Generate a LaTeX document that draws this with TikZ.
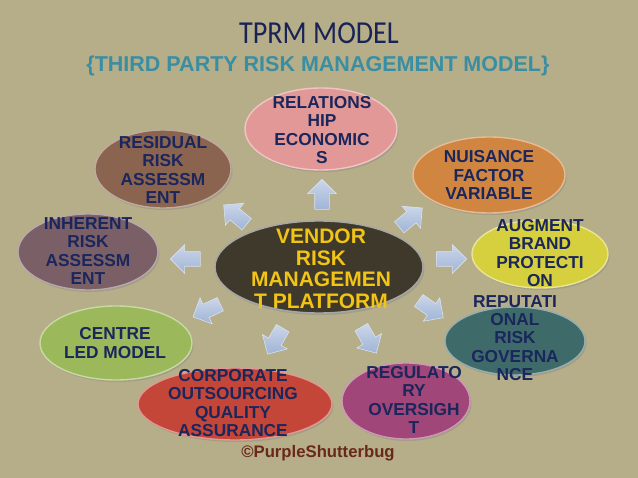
\documentclass[tikz,border=0pt]{standalone}
\usepackage{fontspec}
\setmainfont{Liberation Sans}
\newfontfamily\titlefont{Carlito}
\usetikzlibrary{shapes.geometric,shapes.arrows,shadows}
\definecolor{bgc}{RGB}{182,174,137}
\definecolor{navy}{RGB}{26,38,92}
\definecolor{titlec}{RGB}{25,35,85}
\definecolor{subc}{RGB}{58,142,162}
\definecolor{copyc}{RGB}{105,40,25}
\definecolor{centc}{RGB}{62,57,42}
\definecolor{centt}{RGB}{242,196,22}
\definecolor{relc}{RGB}{226,152,150}
\definecolor{resc}{RGB}{139,100,80}
\definecolor{nuic}{RGB}{208,134,64}
\definecolor{augc}{RGB}{214,208,62}
\definecolor{repc}{RGB}{62,106,106}
\definecolor{regc}{RGB}{160,70,120}
\definecolor{corc}{RGB}{196,70,56}
\definecolor{cenc}{RGB}{155,185,90}
\definecolor{inhc}{RGB}{122,96,102}
\definecolor{arrc}{RGB}{160,180,214}
\tikzset{
  ell/.style={ellipse, inner sep=0pt, fill=#1, draw=#1!55!white, line width=1.4pt,
    drop shadow={shadow xshift=1.5pt, shadow yshift=-2pt, opacity=0.35}},
  txt/.style={text=navy, font=\bfseries\fontsize{17.3}{18.3}\selectfont, align=center, inner sep=0pt},
  blockarrow/.style={single arrow, inner xsep=0pt, inner ysep=0pt, minimum height=30pt,
    single arrow head extend=7pt, single arrow head indent=0pt,
    top color=arrc!55!white, bottom color=arrc, draw=arrc!40!white, line width=0.6pt, rotate=#1}
}
\newcommand{\shaftbox}{\rule{0pt}{14pt}}
\begin{document}
\begin{tikzpicture}[x=1pt,y=-1pt]
\fill[bgc] (0,0) rectangle (638,478);
\useasboundingbox (0,0) rectangle (638,478);

% title
\node[text=titlec, font=\titlefont\fontsize{32}{34}\selectfont, inner sep=0pt] (title) at (319,33) {\scalebox{0.88}[1]{TPRM MODEL}};
\node[text=subc, font=\bfseries\fontsize{21.5}{24}\selectfont, inner sep=0pt] (subtitle) at (318,66) {\{THIRD PARTY RISK MANAGEMENT MODEL\}};

% ellipses
\node[ell=relc, minimum width=152pt, minimum height=82pt] (rel) at (321,129) {};
\node[ell=resc, minimum width=136pt, minimum height=78pt] (res) at (163,169) {};
\node[ell=nuic, minimum width=152pt, minimum height=76pt] (nui) at (489,175) {};
\node[ell=augc, minimum width=136pt, minimum height=68pt] (aug) at (540,254) {};
\node[ell=inhc, minimum width=140pt, minimum height=76pt] (inh) at (88,252) {};
\node[ell=cenc, minimum width=152pt, minimum height=74pt] (cen) at (116,343) {};
\node[ell=repc, minimum width=140pt, minimum height=68pt] (rep) at (515,341) {};
\node[ell=regc, minimum width=128pt, minimum height=76pt] (reg) at (406,401) {};
\node[ell=corc, minimum width=194pt, minimum height=72pt] (cor) at (235,404) {};
\node[ell=centc, draw=gray!70!white, minimum width=208pt, minimum height=92pt] (vrm) at (319,267) {};

% arrows
\node[blockarrow=90]  (a1) at (322,198) {\shaftbox};
\node[blockarrow=140] (a2) at (238,217) {\shaftbox};
\node[blockarrow=40]  (a3) at (408,220) {\shaftbox};
\node[blockarrow=180] (a4) at (189,259) {\shaftbox};
\node[blockarrow=0]   (a5) at (448,259) {\shaftbox};
\node[blockarrow=205] (a6) at (210,309) {\shaftbox};
\node[blockarrow=240] (a7) at (277,338) {\shaftbox};
\node[blockarrow=300] (a8) at (367,337) {\shaftbox};
\node[blockarrow=325] (a9) at (428,307) {\shaftbox};

% texts
\node[text=centt, font=\bfseries\fontsize{21}{21.5}\selectfont, align=center, inner sep=0pt] (vrmt) at (321,269) {VENDOR\\RISK\\MANAGEMEN\\T PLATFORM};
\node[txt] (relt) at (322,130) {RELATIONS\\HIP\\ECONOMIC\\S};
\node[txt] (rest) at (163,170) {RESIDUAL\\RISK\\ASSESSM\\ENT};
\node[txt] (nuit) at (489,175) {NUISANCE\\FACTOR\\VARIABLE};
\node[txt] (augt) at (540,253) {AUGMENT\\BRAND\\PROTECTI\\ON};
\node[txt] (inht) at (88,251) {INHERENT\\RISK\\ASSESSM\\ENT};
\node[txt] (cent) at (115,343) {CENTRE\\LED MODEL};
\node[txt] (rept) at (515,338) {REPUTATI\\ONAL\\RISK\\GOVERNA\\NCE};
\node[txt] (regt) at (414,400) {REGULATO\\RY\\OVERSIGH\\T};
\node[txt] (cort) at (233,403) {CORPORATE\\OUTSOURCING\\QUALITY\\ASSURANCE};

\node[text=copyc, font=\bfseries\fontsize{16.7}{18}\selectfont, inner sep=0pt] (copy) at (318,453) {\textcopyright PurpleShutterbug};
\end{tikzpicture}
\end{document}
